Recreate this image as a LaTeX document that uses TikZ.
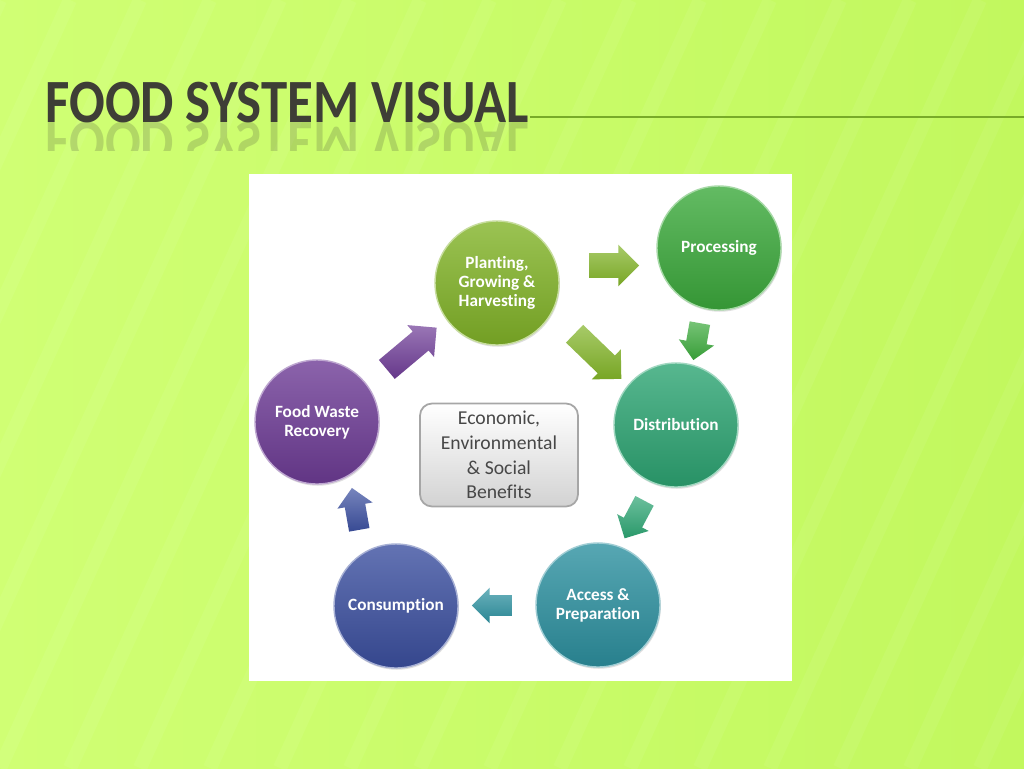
\documentclass[tikz,border=0pt]{standalone}
\usepackage{fontspec}
\setmainfont[Ligatures=NoCommon]{Carlito}
\newfontfamily\titlefont[FakeStretch=0.86]{Carlito}
\usetikzlibrary{shapes.arrows, calc, shadows}

\definecolor{bgLight}{RGB}{208,255,116}
\definecolor{bgDark}{RGB}{194,248,94}
\definecolor{titleInk}{RGB}{62,62,54}
\definecolor{ruleGreen}{RGB}{120,170,40}
\definecolor{cPlant}{RGB}{130,180,40}
\definecolor{cProc}{RGB}{60,170,60}
\definecolor{cDist}{RGB}{45,165,115}
\definecolor{cAccess}{RGB}{45,145,160}
\definecolor{cCons}{RGB}{60,80,160}
\definecolor{cWaste}{RGB}{110,60,150}

\begin{document}
\begin{tikzpicture}[
    x=0.02cm, y=0.02cm,
    stage/.style={circle, minimum size=2.48cm, inner sep=0pt, align=center,
                  text=white, font=\fontsize{9.8}{10.8}\selectfont\bfseries,
                  draw=#1!45!white, line width=0.8pt,
                  top color=#1!80!white, bottom color=#1!88!black,
                  drop shadow={opacity=0.25, shadow xshift=0.5pt, shadow yshift=-1pt}},
    flow/.style={single arrow, draw=none, inner xsep=0pt, inner ysep=0.24cm,
                 single arrow head extend=0.17cm,
                 top color=#1!70!white, bottom color=#1!92!black},
    smallflow/.style={flow=#1, inner ysep=0.2cm, single arrow head extend=0.15cm},
    benefits/.style={draw=gray!70, line width=1pt, rounded corners=0.24cm,
                     minimum width=3.16cm, minimum height=2.06cm, align=center,
                     top color=white, bottom color=gray!35, text=black!72,
                     font=\fontsize{11.2}{14}\selectfont}
]

%% ---- slide background ------------------------------------------
\useasboundingbox (0,0) rectangle (1024,-768);
\fill[left color=bgLight, right color=bgDark] (0,0) rectangle (1024,-768);
\foreach \k in {0,70,...,1500}
  \draw[white, opacity=0.06, line width=8pt] (\k-350,-768) -- (\k,0);

%% ---- title -------------------------------------------------------
\node[anchor=base west, inner sep=0pt, text=titleInk,
      font=\titlefont\bfseries\fontsize{35}{35}\selectfont] (title) at (45,-122) {FOOD SYSTEM VISUAL};
\begin{scope}
  \clip (40,-122) rectangle (560,-150);
  \node[anchor=base west, inner sep=0pt, text=titleInk, opacity=0.2, yscale=-1,
        font=\titlefont\bfseries\fontsize{35}{35}\selectfont] at (45,-122) {FOOD SYSTEM VISUAL};
\end{scope}
\draw[ruleGreen, line width=0.8pt] (title.east |- 0,-117) -- (1024,-117);

%% ---- white panel -------------------------------------------------
\fill[white] (249,-174) rectangle (792,-681);

%% ---- stages ------------------------------------------------------
\node[stage=cPlant]  (plant)  at (497,-283) {Planting,\\Growing \&\\Harvesting};
\node[stage=cProc]   (proc)   at (719,-248) {Processing};
\node[stage=cDist]   (dist)   at (676,-425) {Distribution};
\node[stage=cAccess] (access) at (598,-605) {Access \&\\Preparation};
\node[stage=cCons]   (cons)   at (396,-606) {Consumption};
\node[stage=cWaste]  (waste)  at (317,-422) {Food Waste\\Recovery};

\node[benefits] (ben) at (499,-455) {Economic,\\Environmental\\\& Social\\Benefits};

%% ---- block arrows between stages ---------------------------------
\node[flow=cPlant, minimum height=1.0cm, rotate=0]         (a1) at ($(plant)!0.5!(proc)$)   {};
\node[flow=cPlant, minimum height=1.3cm, rotate=-44]       (a2) at ($(plant)!0.5!(dist)+(7,2)$) {};
\node[smallflow=cProc, minimum height=0.75cm, rotate=-100] (a3) at ($(proc)!0.5!(dist)$)    {};
\node[smallflow=cDist, minimum height=0.85cm, rotate=-118] (a4) at ($(dist)!0.5!(access)$)  {};
\node[smallflow=cAccess, minimum height=0.8cm, rotate=180] (a5) at ($(access)!0.5!(cons)$)  {};
\node[smallflow=cCons, minimum height=0.85cm, rotate=100]  (a6) at ($(cons)!0.5!(waste)$)   {};
\node[flow=cWaste, minimum height=1.3cm, rotate=40]        (a7) at ($(waste)!0.5!(plant)$)  {};

\end{tikzpicture}
\end{document}
